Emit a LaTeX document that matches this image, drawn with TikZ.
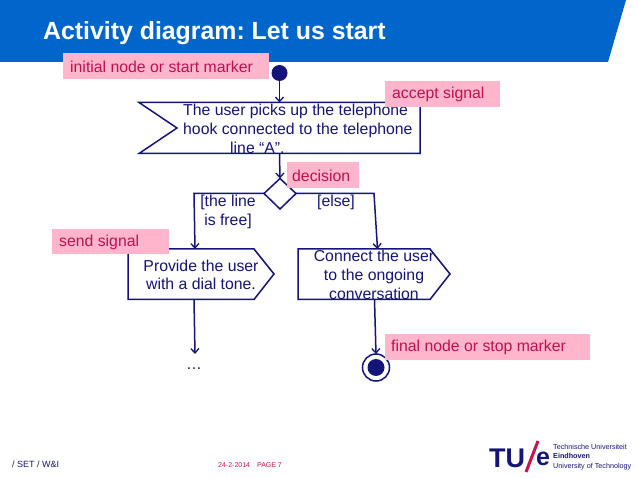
\documentclass[tikz,border=0pt]{standalone}
\usepackage{fontspec}
\setmainfont{Liberation Sans}
\usetikzlibrary{arrows.meta}
\frenchspacing
\definecolor{banner}{HTML}{0066CC}
\definecolor{navy}{HTML}{14147A}
\definecolor{pinkbox}{HTML}{FFB6CC}
\definecolor{pinktext}{HTML}{C0104E}
\definecolor{tuered}{HTML}{D01048}
\tikzset{
  x=1pt,y=-1pt,
  flow/.style={draw=navy,line width=1.5pt,-{Straight Barb[length=4.5pt,width=8pt,line width=1.3pt]}},
  shapeline/.style={draw=navy,line width=1.5pt,fill=white,line join=miter},
  tag/.style={text=pinktext,font=\fontsize{15.8}{18}\selectfont,anchor=west,inner sep=0pt},
  body/.style={text=navy,font=\fontsize{15.8}{18.7}\selectfont,align=center,inner sep=0pt},
}
\begin{document}
\begin{tikzpicture}
\useasboundingbox (0,0) rectangle (638,478);
\fill[white] (0,0) rectangle (638,478);
\fill[banner] (0,0) -- (626,0) -- (608,62) -- (0,62) -- cycle;
\node[anchor=west,text=white,font=\bfseries\fontsize{24.85}{28}\selectfont,inner sep=0pt] (title) at (43,33) {Activity diagram: Let us start};

% shapes
\draw[shapeline] (139,102.5) -- (420,102.5) -- (420,153.5) -- (139,153.5) -- (177,128) -- cycle;
\draw[shapeline] (128,249) -- (254,249) -- (274,274) -- (254,299.5) -- (128,299.5) -- cycle;
\draw[shapeline] (298,249) -- (430,249) -- (450,274) -- (430,299.5) -- (298,299.5) -- cycle;
\draw[shapeline] (280,178.5) -- (296,193.5) -- (280,209) -- (264,193.5) -- cycle;
\coordinate (accept) at (279.5,102.5);
\coordinate (acceptb) at (279.5,153.5);
\coordinate (dectop) at (280,178.5);
\coordinate (decl) at (264,193.5);
\coordinate (decr) at (296,193.5);
\coordinate (sendtop) at (195,249);
\coordinate (sendbot) at (194,299.5);
\coordinate (conntop) at (377.5,249);
\coordinate (connbot) at (374.5,299.5);
\coordinate (cont) at (195,354);

\fill[navy] (279.5,73) circle (8pt);
\coordinate (start) at (279.5,81);
\draw[flow] (start) -- (accept);
\draw[flow] (acceptb) -- (dectop);
\draw[flow] (decl) -- (194,193.5) -- (sendtop);
\draw[flow] (decr) -- (374,193.5) -- (conntop);
\draw[flow] (sendbot) -- (cont);
\draw[flow] (connbot) -- (376,354);

\node[circle,draw=navy,line width=1.5pt,fill=white,minimum size=27pt,inner sep=0pt] (stopm) at (376,367.5) {};
\fill[navy] (stopm.center) circle (8.5pt);

\node[body,align=left,anchor=west] (t1) at (183,129) {The user picks up the telephone\\hook connected to the telephone\\\hspace*{47pt}line “A”.};
\node[body] (t2) at (201,275) {Provide the user\\with a dial tone.};
\node[body] (t3) at (374,275) {Connect the user\\to the ongoing\\conversation};
\node[body] (g1) at (228,212) {[the line\\is free]};
\node[body] (g2) at (336,202) {[else]};
\node[body] (dots) at (194,369) {…};

\fill[pinkbox] (63,53) rectangle (269,79);
\node[tag] (a) at (70,66.5) {initial node or start marker};
\fill[pinkbox] (385,81) rectangle (500,107);
\node[tag] (b) at (392,94.5) {accept signal};
\fill[pinkbox] (287,162) rectangle (359,188);
\node[tag] (c) at (292,175.5) {decision};
\fill[pinkbox] (52,229) rectangle (169,254);
\node[tag] (d) at (59,242.5) {send signal};
\fill[pinkbox] (385,334) rectangle (590,360);
\node[tag] (e) at (391,347.5) {final node or stop marker};

\node[anchor=west,text=navy,font=\fontsize{9}{10}\selectfont,inner sep=0pt] (f1) at (12,464) {/ SET / W\&I};
\node[anchor=west,text=tuered,font=\fontsize{7}{9}\selectfont,inner sep=0pt] (f2) at (218,465) {24-2-2014\quad PAGE 7};
\node[anchor=west,text=navy,font=\bfseries\fontsize{27}{30}\selectfont,inner sep=0pt] (tu) at (489,458) {TU};
\draw[tuered,line width=3pt] (526,472) -- (538,441);
\node[anchor=west,text=navy,font=\bfseries\fontsize{25}{30}\selectfont,inner sep=0pt] (e2) at (536,459) {e};
\node[anchor=west,text=navy,font=\fontsize{7.2}{9.6}\selectfont,align=left,inner sep=0pt] (tue) at (553,457) {Technische Universiteit\\\textbf{Eindhoven}\\University of Technology};
\end{tikzpicture}
\end{document}
